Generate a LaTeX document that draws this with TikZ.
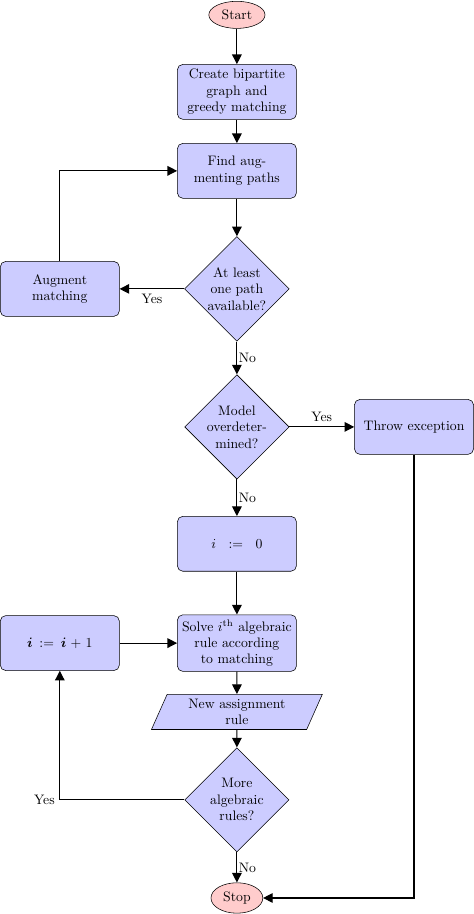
\documentclass[tikz,border=0pt]{standalone}
\usepackage{bm}
\usepackage{tikz}
\usetikzlibrary{shapes,arrows.meta,positioning}
\tikzstyle{term}=[ellipse, draw, fill=red!20, text centered]
\tikzstyle{box}=[rectangle, draw, fill=blue!20, rounded corners, text width=8em, text centered, minimum height=4em]
\tikzstyle{dec}=[diamond, draw, fill=blue!20, text width=4.5em, text badly centered, inner sep=0pt, aspect=1]
\tikzstyle{io}=[trapezium, trapezium left angle=66, trapezium right angle=114, draw, fill=blue!20,
        align=center, trapezium stretches body, minimum width=4.37cm]
\tikzstyle{line}=[draw, thick, -{Triangle[length=7pt,width=7pt]}]

\begin{document}
\begin{tikzpicture}
\useasboundingbox (0,0) rectangle (12.12,-23.38);
\node [term] (start) at (6.06,-0.38) {Start};
\node [box] (graph) at (6.06,-2.35) {Create bipartite graph and greedy matching};
\node [box] (find) at (6.06,-4.37) {Find augmenting paths};
\node [dec] (path) at (6.06,-7.39) {At least one path available?};
\node [box] (augment) at (1.53,-7.39) {Augment matching};
\node [dec] (over) at (6.06,-10.92) {Model overdetermined?};
\node [box] (throw) at (10.59,-10.92) {Throw exception};
\node [box] (init) at (6.06,-13.91) {$i\ :=\ 0$};
\node [box] (solve) at (6.06,-16.45) {Solve $i^{\mathrm{th}}$ algebraic rule according to matching};
\node [box] (incr) at (1.53,-16.45) {$\bm{i} := \bm{i}+1$};
\node [io] (assign) at (6.06,-18.21) {New assignment\\rule};
\node [dec] (more) at (6.06,-20.46) {More algebraic rules?};
\node [term] (stop) at (6.06,-22.97) {Stop};

\path [line] (start) -- (graph);
\path [line] (graph) -- (find);
\path [line] (find) -- (path);
\path [line] (path) -- node [below] {Yes} (augment);
\path [line] (augment) |- (find);
\path [line] (path) -- node [right, inner sep=1pt] {No} (over);
\path [line] (over) -- node [above] {Yes} (throw);
\path [line] (over) -- node [right, inner sep=1pt] {No} (init);
\path [line] (init) -- (solve);
\path [line] (incr) -- (solve);
\path [line] (solve) -- (assign);
\path [line] (assign) -- (more);
\path [line] (more) -| node [left] {Yes} (incr);
\path [line] (more) -- node [right, inner sep=1pt] {No} (stop);
\path [line] (throw) |- (stop);

\end{tikzpicture}
\end{document}
